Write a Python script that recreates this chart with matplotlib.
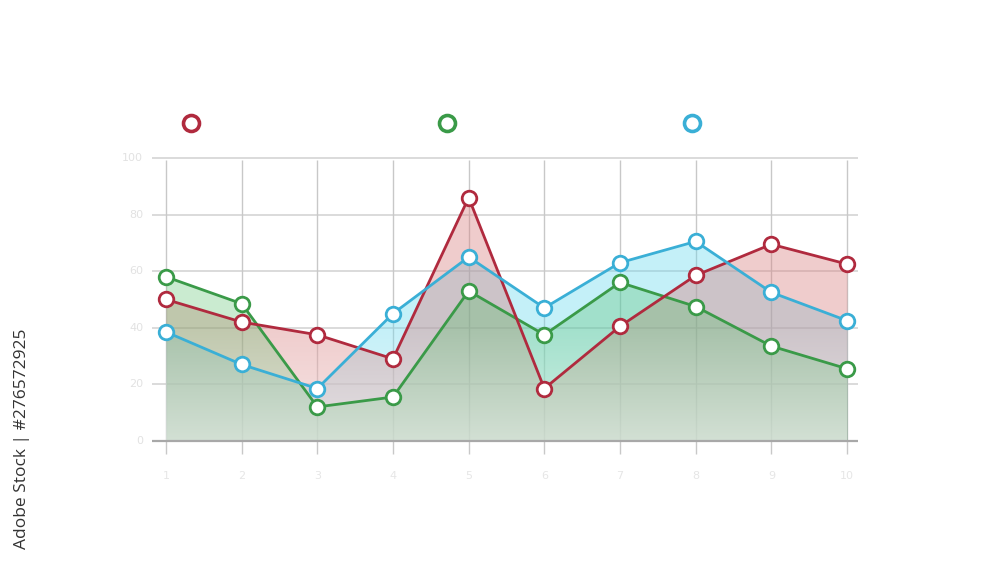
import numpy as np
import matplotlib
matplotlib.use('Agg')
import matplotlib.pyplot as plt
from matplotlib.patches import Polygon

# data
x_vals = [1, 2, 3, 4, 5, 6, 7, 8, 9, 10]
red_vals = [50, 42, 37.5, 29, 86, 18.5, 40.5, 58.5, 69.5, 62.5]
green_vals = [58, 48.5, 12, 15.5, 53, 37.5, 56, 47.5, 33.5, 25.5]
blue_vals = [38.5, 27, 18.5, 45, 65, 47, 63, 70.5, 52.5, 42.5]
y_ticks = [0, 20, 40, 60, 80, 100]
x_labels = [str(v) for v in x_vals]

RED = '#b02a3e'
GREEN = '#3a9a48'
BLUE = '#3aafd6'

fig = plt.figure(figsize=(10, 5.63), dpi=100)
ax = fig.add_axes([0.152, 1 - 455 / 563, 0.706, (455 - 155.2) / 563])
ax.set_xlim(0.815, 10.145)
ax.set_ylim(-5, 101)
ax.axis('off')

# grid
for t in y_ticks[1:]:
    ax.axhline(t, color='#d4d4d4', lw=1.2, zorder=1)
ax.axhline(0, color='#a8a8a8', lw=1.6, zorder=6)
ax.vlines(x_vals, -4.5, 99.3, color='#c8c8c8', lw=1.0, zorder=1)

# area fills (order matters for the overlap tints)
ax.fill_between(x_vals, 0, blue_vals, color='#66d8ee', alpha=0.38, lw=0, zorder=2)
ax.fill_between(x_vals, 0, red_vals, color='#d98080', alpha=0.40, lw=0, zorder=2)
ax.fill_between(x_vals, 0, green_vals, color='#50be64', alpha=0.30, lw=0, zorder=2)

# fade toward the bottom
top_env = np.maximum(np.maximum(red_vals, green_vals), blue_vals)
poly = Polygon(list(zip(x_vals, top_env)) + [(10, 0), (1, 0)], closed=True,
               transform=ax.transData, facecolor='none', edgecolor='none')
ax.add_patch(poly)
grad = np.linspace(0, 1, 256)
rgba = np.zeros((256, 1, 4))
rgba[..., :3] = 1.0
rgba[:, 0, 3] = np.clip(0.5 * (1 - grad * 2.4), 0, 0.5)
img = ax.imshow(rgba, extent=[1, 10, 0, 100], origin='lower', aspect='auto', zorder=3)
img.set_clip_path(poly)

# lines with hollow markers
for vals, col in [(green_vals, GREEN), (red_vals, RED), (blue_vals, BLUE)]:
    ax.plot(x_vals, vals, color=col, lw=2.0, zorder=5)
    ax.plot(x_vals, vals, 'o', ms=10.5, mfc='white', mec=col, mew=2.0, zorder=7)

# tick labels (very faint)
for t in y_ticks:
    ax.text(0.7, t, str(t), ha='right', va='center', fontsize=8, color='#e2e2e2')
for xv, lab in zip(x_vals, x_labels):
    ax.text(xv, -12.5, lab, ha='center', va='center', fontsize=8, color='#e6e6e6',
            clip_on=False)

# legend markers
for xp, col in [(191, RED), (447, GREEN), (692, BLUE)]:
    fig.lines.append(plt.Line2D([xp / 1000], [1 - 123 / 563], marker='o', ms=11.5,
                                mfc='white', mec=col, mew=2.6, transform=fig.transFigure))

# stock watermark id
fig.text(0.022, 1 - 439 / 563, 'Adobe Stock | #276572925', rotation=90, ha='center',
         va='center', fontsize=12.5, color='#333333', family='Open Sans')

fig.savefig('out.png', dpi=100)
